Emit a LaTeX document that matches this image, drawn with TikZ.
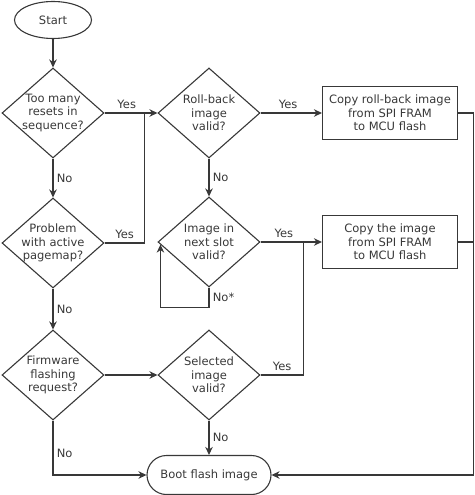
\documentclass[tikz,border=0pt]{standalone}
\usepackage{fontspec}
\setmainfont{DejaVu Sans}
\usepackage{tikz}
\usetikzlibrary{positioning,shapes,arrows.meta,calc}
\colorlet{ink}{black!78}
\tikzstyle{startstop} = [ellipse, minimum width=77pt, minimum height=37pt, inner sep=0pt, text centered, draw=ink]
\tikzstyle{decision} = [diamond, minimum width=102pt, minimum height=90pt, inner sep=-10pt, align=center, draw=ink]
\tikzstyle{process} = [rectangle, minimum width=135pt, minimum height=53pt, inner sep=0pt, align=center, draw=ink]
\tikzstyle{terminal} = [rectangle, rounded corners=19.5pt, minimum width=124pt, minimum height=39pt, inner sep=0pt, text centered, draw=ink]
\tikzstyle{arrow} = [->,>={Stealth[length=8pt,width=7.5pt,inset=2.5pt]}]

\begin{document}
\begin{tikzpicture}[node distance=130pt, line width=1.1pt, draw=ink, text=ink,
  font=\fontsize{11.5pt}{13.5pt}\selectfont]

\useasboundingbox (-53pt,20pt) rectangle (421pt,-475pt);

\node (start) [startstop] {Start};
\node (resets) [decision, below of=start, yshift=37pt] {Too many\\resets in\\sequence?};
\node (pagemap) [decision, below of=resets] {Problem\\with active\\pagemap?};
\node (flashreq) [decision, below of=pagemap, yshift=-2pt] {Firmware\\flashing\\request?};

\node (rollback) [decision, right of=resets, xshift=26pt] {Roll-back\\image\\valid?};
\node (nextslot) [decision, below of=rollback, yshift=1pt] {Image in\\next slot\\valid?};
\node (selected) [decision, right of=flashreq, xshift=26pt] {Selected\\image\\valid?};
\node (boot) [terminal, below of=selected, yshift=30pt] {Boot flash image};

\node (copyrb) [process, right of=rollback, xshift=51pt] {Copy roll-back image\\from SPI FRAM\\to MCU flash};
\node (copyimg) [process, right of=nextslot, xshift=51pt] {Copy the image\\from SPI FRAM\\to MCU flash};

\draw [arrow] (start) -- (resets);
\draw [arrow] (resets) -- node [pos=0.42, above] {Yes} (rollback);
\draw [arrow] (resets) -- node [right] {No} (pagemap);
\draw (pagemap.east) -| node [pos=0.25, above] {Yes} ($(resets.east)+(40pt,0)$);
\draw [arrow] (pagemap) -- node [right] {No} (flashreq);
\draw [arrow] (flashreq) -- (selected);
\draw [arrow] (flashreq.south) |- node [pos=0.3, right] {No} (boot.west);

\draw [arrow] (rollback) -- node [pos=0.45, above] {Yes} (copyrb);
\draw [arrow] (rollback) -- node [right] {No} (nextslot);
\draw [arrow] (nextslot) -- node [pos=0.38, above] {Yes} (copyimg);
\draw [arrow] (nextslot.south) -- node [right] {No*} ++(0,-20pt) -| ($(nextslot.west)+(3pt,-2.6pt)$);
\draw (selected.east) -| node [pos=0.25, above] {Yes} ($(nextslot.east)+(43pt,0)$);
\draw [arrow] (selected) -- node [right] {No} (boot);

\draw [arrow] (copyrb.east) -- ++(15pt,0) |- (boot.east);
\draw (copyimg.east) -- ++(15pt,0);

\end{tikzpicture}
\end{document}
